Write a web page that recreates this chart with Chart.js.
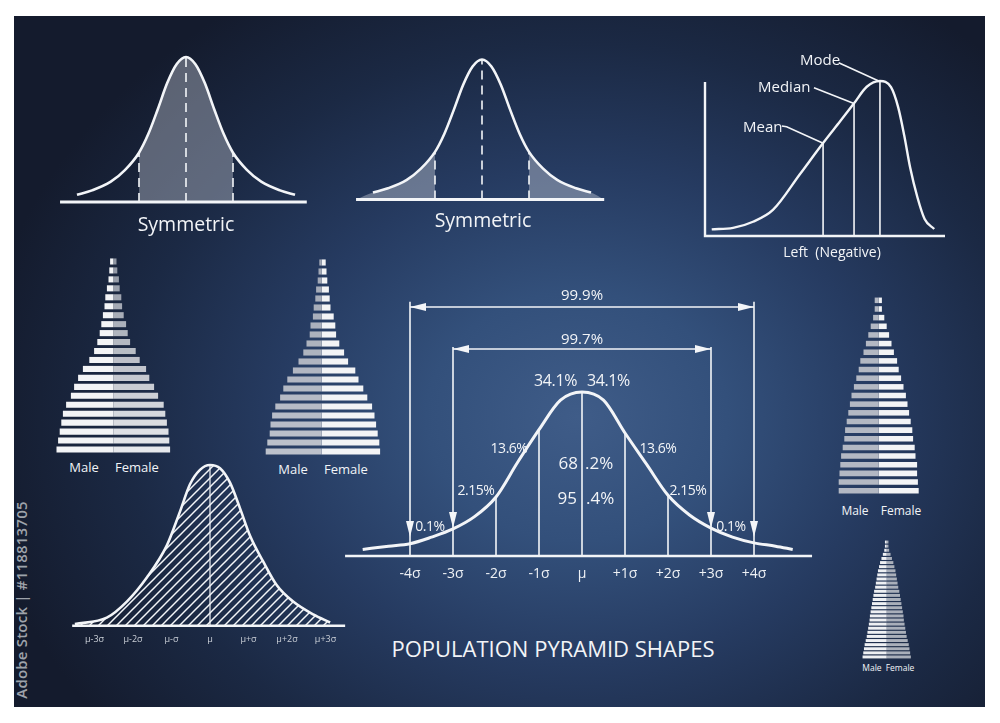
<!DOCTYPE html>
<html>
<head>
<meta charset="utf-8">
<script src="https://cdn.jsdelivr.net/npm/chart.js@4.4.1/dist/chart.umd.min.js"></script>
<style>
html, body { margin: 0; padding: 0; background: #fff; }
body { width: 1000px; height: 723px; overflow: hidden; font-family: 'Open Sans', sans-serif; position: relative; }
#board {
    position: absolute; left: 14px; top: 16px; width: 971px; height: 691px; overflow: hidden;
    background: radial-gradient(ellipse 62% 72% at 58% 58%, #3f5c88 0%, #33507b 25%, #263b61 50%, #1b2944 75%, #141b2d 100%);
}
.lbl { position: absolute; color: #f2f4f7; white-space: nowrap; line-height: 1; }
#stock { position: absolute; left: 21px; top: 600px; transform: translate(-50%, -50%) rotate(-90deg);
    color: #9ea3ab; font: 600 15px 'Open Sans', sans-serif; white-space: nowrap; letter-spacing: 0.2px; }
</style>
</head>
<body>
<div id="board"></div>
<div id="stock">Adobe Stock | #118813705</div>
<script>
// Curvas simétricas de arriba: x en sigmas, y relativo al pico
const bellX = [-2.32, -2.0, -1.6, -1.3, -1.0, -0.8, -0.6, -0.4, -0.2, 0, 0.2, 0.4, 0.6, 0.8, 1.0, 1.3, 1.6, 2.0, 2.32];
const bellY = [0.05, 0.08, 0.14, 0.22, 0.34, 0.47, 0.64, 0.82, 0.95, 1.0, 0.95, 0.82, 0.64, 0.47, 0.34, 0.22, 0.14, 0.08, 0.05];

// Curva sesgada a la izquierda
const skewX = [0.28, 1.17, 2.0, 2.83, 3.96, 4.92, 5.63, 6.21, 6.74, 7.29, 7.75, 8.05, 8.3, 8.55, 8.85, 9.15, 9.55];
const skewY = [0.43, 0.52, 0.92, 1.68, 4.0, 6.0, 7.4, 8.56, 9.63, 10, 9.6, 8.3, 6.5, 4.4, 2.5, 1.1, 0.45];
const skewMean = 4.92, skewMedian = 6.21, skewMode = 7.29;

// Distribución normal principal
const sigmaX = [-5.1, -4.5, -4, -3.5, -3, -2.5, -2, -1.5, -1, -0.5, 0, 0.5, 1, 1.5, 2, 2.5, 3, 3.5, 4, 4.5, 4.9];
const normalY = [0.04, 0.06, 0.075, 0.115, 0.165, 0.24, 0.36, 0.57, 0.77, 0.95, 1, 0.95, 0.75, 0.56, 0.37, 0.25, 0.17, 0.115, 0.08, 0.06, 0.04];
const sigmaTicks = [-4, -3, -2, -1, 0, 1, 2, 3, 4];
const sigmaLabels = ['-4σ', '-3σ', '-2σ', '-1σ', 'μ', '+1σ', '+2σ', '+3σ', '+4σ'];

// Curva rayada de abajo
const hatchX = [-3.51, -2.68, -2.16, -1.64, -1.12, -0.78, -0.52, -0.26, 0, 0.26, 0.52, 0.78, 1.04, 1.38, 1.74, 2.16, 2.68, 3.12];
const hatchY = [0.01, 0.05, 0.15, 0.30, 0.50, 0.71, 0.88, 0.97, 1.0, 0.98, 0.89, 0.73, 0.56, 0.40, 0.25, 0.15, 0.07, 0.02];
const muTicks = [-3, -2, -1, 0, 1, 2, 3];
const muLabels = ['μ-3σ', 'μ-2σ', 'μ-σ', 'μ', 'μ+σ', 'μ+2σ', 'μ+3σ'];

// Pirámides de población (de la franja mayor a la menor, % por sexo)
const pyr1Male   = [0.4, 0.5, 0.6, 0.8, 1.0, 1.1, 1.3, 1.5, 1.7, 2.0, 2.4, 3.0, 3.8, 4.4, 4.9, 5.3, 5.9, 6.3, 6.5, 6.7, 6.9, 7.1];
const pyr1Female = [0.4, 0.5, 0.7, 0.8, 1.0, 1.1, 1.3, 1.6, 1.8, 2.1, 2.8, 3.3, 4.1, 4.5, 5.1, 5.6, 6.3, 6.5, 6.7, 6.9, 7.0, 7.1];
const pyr2Male   = [0.3, 0.4, 0.5, 0.7, 0.8, 1.0, 1.1, 1.4, 1.5, 1.9, 2.3, 2.9, 3.6, 4.3, 4.8, 5.2, 5.8, 6.2, 6.4, 6.5, 6.8, 7.0];
const pyr2Female = [0.5, 0.6, 0.7, 0.9, 1.0, 1.1, 1.5, 1.7, 1.8, 2.2, 2.8, 3.3, 4.2, 4.6, 5.2, 5.7, 6.3, 6.6, 6.8, 7.0, 7.2, 7.3];
const pyr3Male   = [0.5, 0.5, 0.7, 1.0, 1.3, 1.6, 1.9, 2.3, 2.5, 2.8, 3.1, 3.4, 3.6, 3.8, 4.0, 4.2, 4.3, 4.5, 4.7, 4.8, 4.9, 5.0, 5.0];
const pyr3Female = [0.4, 0.4, 0.7, 1.0, 1.3, 1.6, 1.9, 2.3, 2.5, 2.8, 3.1, 3.4, 3.6, 3.8, 4.0, 4.2, 4.3, 4.5, 4.6, 4.8, 4.8, 4.9, 5.0];
const pyr4Male   = [0.5, 0.5, 0.7, 1.1, 1.5, 1.9, 2.2, 2.5, 2.7, 2.9, 3.1, 3.3, 3.6, 3.8, 4.0, 4.2, 4.4, 4.6, 4.8, 4.9, 5.1, 5.3, 5.5, 5.7, 6.0, 6.3, 6.5, 6.7, 6.9];
const pyr4Female = [0.5, 0.5, 0.7, 1.1, 1.5, 1.9, 2.2, 2.5, 2.7, 2.9, 3.1, 3.3, 3.6, 3.8, 4.0, 4.2, 4.4, 4.6, 4.8, 4.9, 5.1, 5.3, 5.5, 5.7, 6.0, 6.3, 6.5, 6.7, 6.9];

const WHITE = '#f3f5f8';
const board = document.body;

function canvasAt(box) {
    const cv = document.createElement('canvas');
    cv.width = box[2];
    cv.height = box[3];
    cv.style.cssText = 'position:absolute;left:' + box[0] + 'px;top:' + box[1] + 'px;width:' + box[2] + 'px;height:' + box[3] + 'px';
    board.appendChild(cv);
    return cv;
}
// x0/y0: píxel del cero, sx/sy: píxeles por unidad
function scalesFor(box, m) {
    return {
        x: { type: 'linear', display: false, min: (box[0] - m.x0) / m.sx, max: (box[0] + box[2] - m.x0) / m.sx },
        y: { type: 'linear', display: false, min: (m.y0 - box[1] - box[3]) / m.sy, max: (m.y0 - box[1]) / m.sy }
    };
}
function pts(xs, ys) { return xs.map((x, i) => ({ x: x, y: ys[i] })); }
function at(xs, ys, v) { return ys[xs.indexOf(v)]; }
function curve(xs, ys, w) {
    return { data: pts(xs, ys), borderColor: WHITE, borderWidth: w, cubicInterpolationMode: 'monotone', pointRadius: 0, fill: false };
}
function area(data, color) {
    return { data: data, borderColor: 'rgba(0,0,0,0)', borderWidth: 1, backgroundColor: color, cubicInterpolationMode: 'monotone', pointRadius: 0, fill: 'origin' };
}
function seg(list, w, dash) {
    return { data: list, borderColor: WHITE, borderWidth: w, borderDash: dash || [], pointRadius: 0, fill: false };
}
function lineChart(box, m, datasets, plugins) {
    return new Chart(canvasAt(box), {
        type: 'line',
        data: { datasets: datasets },
        options: {
            responsive: false, animation: false, devicePixelRatio: 1, events: [],
            plugins: { legend: { display: false }, tooltip: { enabled: false } },
            scales: scalesFor(box, m)
        },
        plugins: plugins || []
    });
}
// etiquetas de eje dibujadas con la escala x del gráfico
function tickPlugin(values, labels, font, color, offset) {
    return {
        id: 'tickText',
        afterDraw(chart) {
            const ctx = chart.ctx, xs = chart.scales.x, ys = chart.scales.y;
            ctx.save();
            ctx.fillStyle = color; ctx.font = font; ctx.textAlign = 'center'; ctx.textBaseline = 'middle';
            values.forEach((v, i) => ctx.fillText(labels[i], xs.getPixelForValue(v), ys.getPixelForValue(0) + offset));
            ctx.restore();
        }
    };
}
// puntas de flecha (punta en el punto dado)
function arrowPlugin(heads) {
    return {
        id: 'arrowHeads',
        afterDatasetsDraw(chart) {
            const ctx = chart.ctx, xs = chart.scales.x, ys = chart.scales.y;
            ctx.save();
            ctx.fillStyle = WHITE;
            heads.forEach(h => {
                const px = xs.getPixelForValue(h.x), py = ys.getPixelForValue(h.y);
                const L = 16, W = 4;
                ctx.beginPath();
                ctx.moveTo(px, py);
                if (h.dir === 'down') { ctx.lineTo(px - W, py - L); ctx.lineTo(px + W, py - L); }
                if (h.dir === 'left') { ctx.lineTo(px + L, py - W); ctx.lineTo(px + L, py + W); }
                if (h.dir === 'right') { ctx.lineTo(px - L, py - W); ctx.lineTo(px - L, py + W); }
                ctx.closePath();
                ctx.fill();
            });
            ctx.restore();
        }
    };
}
function txt(s, x, y, size, align, extra) {
    const d = document.createElement('div');
    d.className = 'lbl';
    d.textContent = s;
    const tr = align === 'l' ? 'translate(0,-50%)' : align === 'r' ? 'translate(-100%,-50%)' : 'translate(-50%,-50%)';
    d.style.cssText = 'left:' + x + 'px;top:' + y + 'px;font-size:' + size + 'px;transform:' + tr + ';' + (extra || '');
    board.appendChild(d);
}
function mix(c1, c2, t) {
    const a = c1.match(/\w\w/g).map(h => parseInt(h, 16)), b = c2.match(/\w\w/g).map(h => parseInt(h, 16));
    return 'rgb(' + a.map((v, i) => Math.round(v + (b[i] - v) * t)).join(',') + ')';
}
function ramp(n, c1, c2) { const out = []; for (let i = 0; i < n; i++) out.push(mix(c1, c2, i / (n - 1))); return out; }

function pyramid(box, cx, sx, male, female, maleColor, femaleColor, thick) {
    return new Chart(canvasAt(box), {
        type: 'bar',
        data: {
            labels: male.map((_, i) => 'g' + (male.length - i)),
            datasets: [
                { label: 'Male', data: male.map(v => -v), backgroundColor: maleColor, borderWidth: 0, barPercentage: 1, categoryPercentage: thick },
                { label: 'Female', data: female, backgroundColor: femaleColor, borderWidth: 0, barPercentage: 1, categoryPercentage: thick }
            ]
        },
        options: {
            indexAxis: 'y', responsive: false, animation: false, devicePixelRatio: 1, events: [],
            plugins: { legend: { display: false }, tooltip: { enabled: false } },
            scales: {
                x: { display: false, stacked: true, min: (box[0] - cx) / sx, max: (box[0] + box[2] - cx) / sx },
                y: { display: false, stacked: true }
            }
        }
    });
}

// 1) Simétrica con franja central sombreada
const box1 = [50, 45, 270, 170], map1 = { x0: 186, sx: 47, y0: 202, sy: 145 };
lineChart(box1, map1, [
    curve(bellX, bellY, 2.6),
    seg([{ x: -1, y: 0 }, { x: -1, y: at(bellX, bellY, -1) }], 1.6, [9, 6]),
    seg([{ x: 0, y: 0 }, { x: 0, y: 1 }], 1.6, [9, 6]),
    seg([{ x: 1, y: 0 }, { x: 1, y: at(bellX, bellY, 1) }], 1.6, [9, 6]),
    seg([{ x: -2.68, y: 0 }, { x: 2.57, y: 0 }], 3),
    area(pts(bellX, bellY).filter(p => p.x >= -1 && p.x <= 1), 'rgba(190,196,208,0.42)')
]);
txt('Symmetric', 186, 224, 19.5);

// 2) Simétrica con colas sombreadas
const box2 = [346, 45, 270, 170], map2 = { x0: 482, sx: 47, y0: 199.5, sy: 140 };
lineChart(box2, map2, [
    curve(bellX, bellY, 2.6),
    seg([{ x: -1, y: 0 }, { x: -1, y: at(bellX, bellY, -1) }], 1.6, [9, 6]),
    seg([{ x: 0, y: 0 }, { x: 0, y: 1 }], 1.6, [9, 6]),
    seg([{ x: 1, y: 0 }, { x: 1, y: at(bellX, bellY, 1) }], 1.6, [9, 6]),
    seg([{ x: -2.68, y: 0 }, { x: 2.6, y: 0 }], 3),
    area([{ x: -2.68, y: 0 }].concat(pts(bellX, bellY).filter(p => p.x <= -1)), 'rgba(200,205,216,0.42)'),
    area(pts(bellX, bellY).filter(p => p.x >= 1).concat([{ x: 2.6, y: 0 }]), 'rgba(200,205,216,0.42)')
]);
txt('Symmetric', 483, 220, 19.5);

// 3) Sesgo a la izquierda con media, mediana y moda
const box3 = [695, 45, 260, 200], map3 = { x0: 705, sx: 24, y0: 236, sy: 15.5 };
lineChart(box3, map3, [
    curve(skewX, skewY, 2.4),
    seg([{ x: skewMean, y: 0 }, { x: skewMean, y: at(skewX, skewY, skewMean) }], 1.6),
    seg([{ x: skewMedian, y: 0 }, { x: skewMedian, y: at(skewX, skewY, skewMedian) }], 1.6),
    seg([{ x: skewMode, y: 0 }, { x: skewMode, y: at(skewX, skewY, skewMode) }], 1.6),
    seg([{ x: 5.57, y: 11.18 }, { x: 7.24, y: 10.0 }], 1.6),
    seg([{ x: 4.54, y: 9.57 }, { x: 6.18, y: 8.56 }], 1.6),
    seg([{ x: 3.2, y: 7.1 }, { x: 3.4, y: 7.05 }, { x: 4.9, y: 6.0 }], 1.6),
    seg([{ x: 0, y: 9.94 }, { x: 0, y: 0 }, { x: 10, y: 0 }], 2.4)
]);
txt('Mode', 800, 59, 15, 'l');
txt('Median', 758, 86, 15, 'l');
txt('Mean', 743, 126, 15, 'l');
txt('Left  (Negative)', 832, 252, 14, 'c', 'white-space:pre;');

// 4) Pirámides
pyramid([50, 257, 130, 197], 113.3, 8, pyr1Male, pyr1Female, '#f3f4f6', ramp(pyr1Female.length, '8f95a2', 'e6e8ec'), 0.68);
txt('Male', 84, 467, 13);
txt('Female', 137, 467, 13);
pyramid([258, 258, 130, 198], 321.7, 8, pyr2Male, pyr2Female, ramp(pyr2Male.length, 'a2a8b5', 'bcc1cb'), '#f3f4f6', 0.68);
txt('Male', 293, 469, 13);
txt('Female', 346, 469, 13);
pyramid([830, 296, 100, 199], 878.7, 8, pyr3Male, pyr3Female, '#b3b8c3', '#f3f4f6', 0.64);
txt('Male', 855, 511, 12);
txt('Female', 901, 511, 12);
pyramid([855, 540, 64, 119], 886.7, 3.5, pyr4Male, pyr4Female, '#eef0f3', '#a9afba', 0.72);
txt('Male', 872, 668, 8.5);
txt('Female', 900, 668, 8.5);

// 5) Normal principal con porcentajes
const box5 = [340, 280, 480, 305], map5 = { x0: 582, sx: 43, y0: 556, sy: 164 };
const mainLines = [curve(sigmaX, normalY, 3)];
[-2, -1, 0, 1, 2].forEach(v => mainLines.push(seg([{ x: v, y: 0 }, { x: v, y: at(sigmaX, normalY, v) }], 1.6)));
[-3, 3].forEach(v => mainLines.push(seg([{ x: v, y: 0 }, { x: v, y: 1.275 }], 1.6)));
[-4, 4].forEach(v => mainLines.push(seg([{ x: v, y: 0 }, { x: v, y: 1.55 }], 1.6)));
mainLines.push(seg([{ x: -4, y: 1.518 }, { x: 4, y: 1.518 }], 1.6));
mainLines.push(seg([{ x: -3, y: 1.262 }, { x: 3, y: 1.262 }], 1.6));
mainLines.push(seg([{ x: -5.51, y: 0 }, { x: 5.35, y: 0 }], 2.4));
lineChart(box5, map5, mainLines, [
    tickPlugin(sigmaTicks, sigmaLabels, '14px "Open Sans"', '#eef1f5', 18),
    arrowPlugin([
        { x: -4, y: 1.518, dir: 'left' }, { x: 4, y: 1.518, dir: 'right' },
        { x: -3, y: 1.262, dir: 'left' }, { x: 3, y: 1.262, dir: 'right' },
        { x: -4, y: 0.116, dir: 'down' }, { x: 4, y: 0.116, dir: 'down' },
        { x: -3, y: 0.17, dir: 'down' }, { x: 3, y: 0.17, dir: 'down' }
    ])
]);
txt('99.9%', 582, 294, 15);
txt('99.7%', 582, 338, 15);
txt('34.1%', 577, 380, 16, 'r', 'letter-spacing:-0.4px;');
txt('34.1%', 587, 380, 16, 'l', 'letter-spacing:-0.4px;');
txt('13.6%', 509, 448, 14, 'c', 'letter-spacing:-0.5px;');
txt('13.6%', 658, 448, 14, 'c', 'letter-spacing:-0.5px;');
txt('2.15%', 476, 490, 14, 'c', 'letter-spacing:-0.5px;');
txt('2.15%', 688, 490, 14, 'c', 'letter-spacing:-0.5px;');
txt('0.1%', 430, 526, 14, 'c', 'letter-spacing:-0.5px;');
txt('0.1%', 731, 526, 14, 'c', 'letter-spacing:-0.5px;');
txt('68', 578, 462, 17, 'r');
txt('.2%', 585, 462, 17, 'l');
txt('95', 577, 497, 17, 'r');
txt('.4%', 586, 497, 17, 'l');

// 6) Curva rayada con marcas μ±kσ
const box7 = [62, 455, 295, 195], map7 = { x0: 210, sx: 38.5, y0: 625.7, sy: 160.7 };
const hatchCanvas = document.createElement('canvas');
hatchCanvas.width = 9; hatchCanvas.height = 9;
const hc = hatchCanvas.getContext('2d');
hc.strokeStyle = WHITE; hc.lineWidth = 1.5;
[[-2, 11, 11, -2], [-2, 2, 2, -2], [7, 11, 11, 7]].forEach(l => { hc.beginPath(); hc.moveTo(l[0], l[1]); hc.lineTo(l[2], l[3]); hc.stroke(); });
const hatchFill = hc.createPattern(hatchCanvas, 'repeat');
const hatchCurve = curve(hatchX, hatchY, 2.6);
hatchCurve.fill = 'origin';
hatchCurve.backgroundColor = hatchFill;
lineChart(box7, map7, [
    hatchCurve,
    seg([{ x: 0, y: 0 }, { x: 0, y: 1 }], 1.2),
    seg([{ x: -3.58, y: 0 }, { x: 3.51, y: 0 }], 2.4)
], [tickPlugin(muTicks, muLabels, '9px "Open Sans"', '#c9ced6', 14)]);

txt('POPULATION PYRAMID SHAPES', 553, 648, 22, 'c', 'font-weight:400;');
</script>
</body>
</html>
